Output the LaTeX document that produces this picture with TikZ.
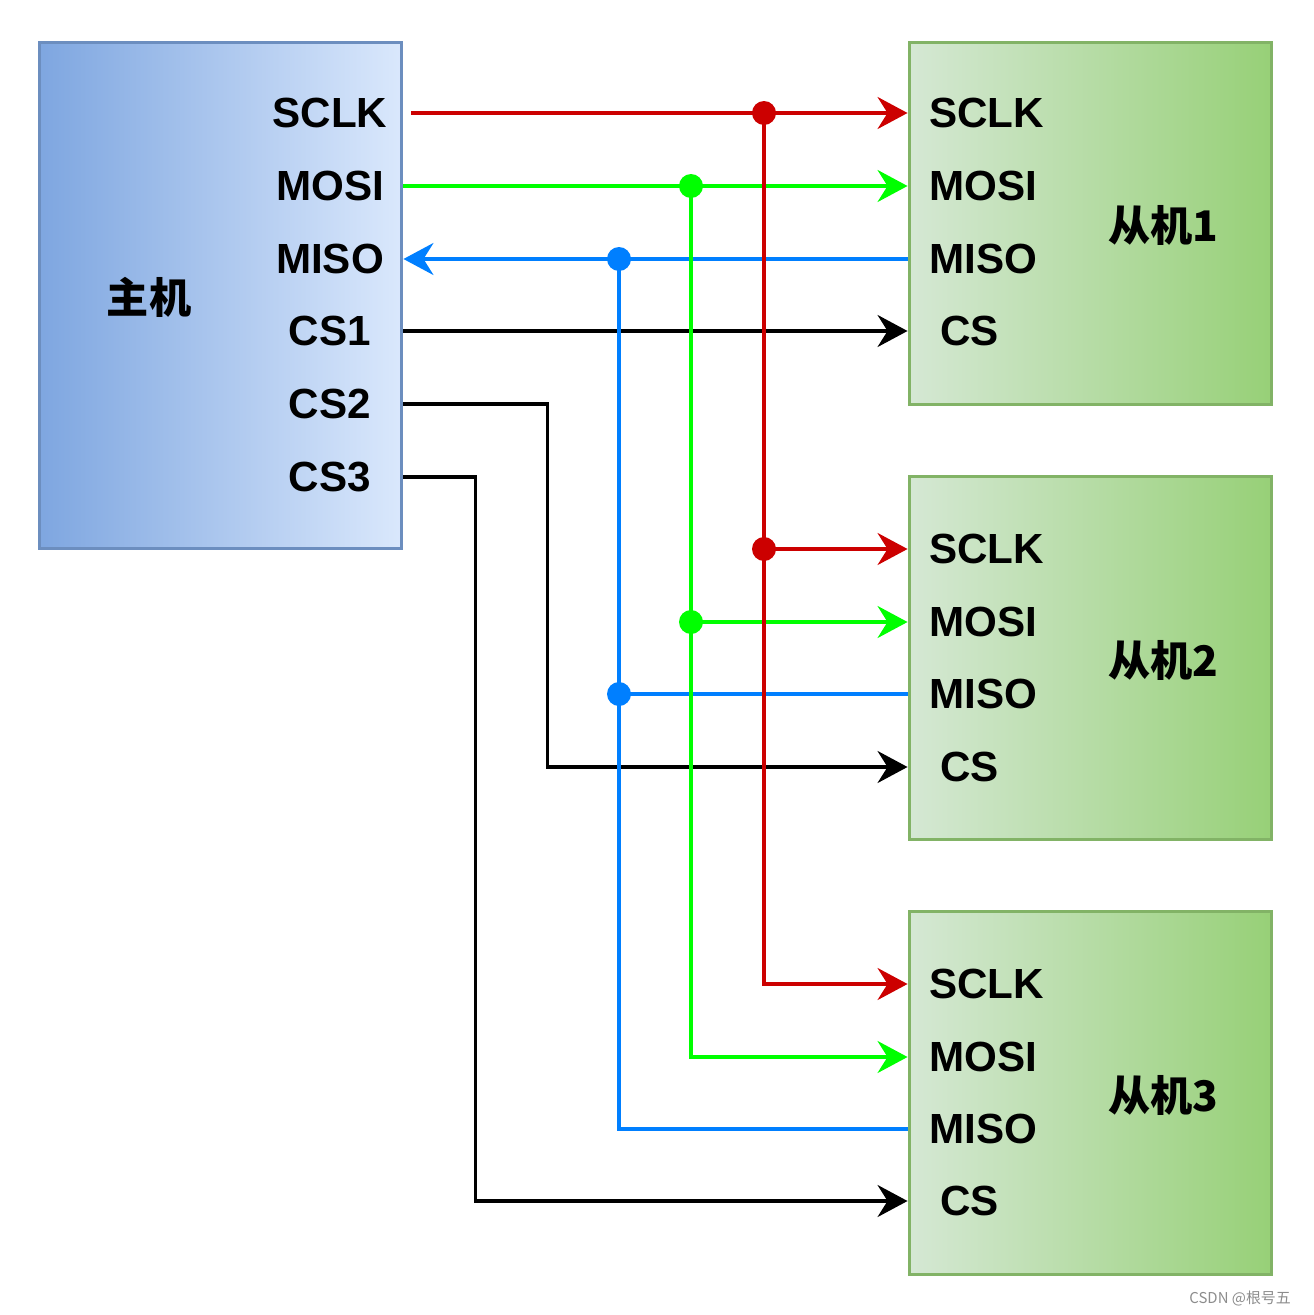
\documentclass[tikz,border=0pt]{standalone}
\usepackage{fontspec}
\setmainfont{Liberation Sans}
\newfontfamily\cjk{Noto Sans CJK SC}
\usetikzlibrary{arrows.meta, positioning}

\definecolor{masterline}{HTML}{6C8EBF}
\definecolor{masterleft}{HTML}{7EA6E0}
\definecolor{masterright}{HTML}{DAE8FC}
\definecolor{slaveline}{HTML}{82B366}
\definecolor{slaveleft}{HTML}{D5E8D4}
\definecolor{slaveright}{HTML}{97D077}
\definecolor{sclkred}{HTML}{CC0000}
\definecolor{mosigreen}{HTML}{00FF00}
\definecolor{misoblue}{HTML}{007FFF}

\tikzset{
	spipicture/.style = {
		x = 0.02cm,
		y = -0.02cm,
		font = \fontsize{24}{28}\selectfont\bfseries,
		wire/.style = {
			draw,
			line width = 2pt,
		},
		signal/.style = {
			wire,
			-{Stealth[length = 6mm, width = 6.4mm, inset = 2mm]},
		}
	},
	masternode/.style = {
		rectangle,
		draw = masterline,
		line width = 1.7pt,
		left color = masterleft,
		right color = masterright,
		minimum width = 7.26cm,
		minimum height = 10.14cm
	},
	slavenode/.style = {
		rectangle,
		draw = slaveline,
		line width = 1.7pt,
		left color = slaveleft,
		right color = slaveright,
		minimum width = 7.26cm,
		minimum height = 7.26cm
	},
	pin/.style = {
		inner sep = 0
	},
	joint/.style = {
		circle,
		inner sep = 0,
		minimum size = 4.8mm
	},
	sclk-wire/.style = {
		draw = sclkred
	},
	mosi-wire/.style = {
		draw = mosigreen
	},
	miso-wire/.style = {
		draw = misoblue
	},
	cs-wire/.style = {
		draw = black
	},
	watermark/.style = {
		font = \cjk\fontsize{8.5}{10}\selectfont,
		text = black!45
	}
}

\begin{document}
\begin{tikzpicture}[spipicture]
	\useasboundingbox (0,0) rectangle (1313,1315);

	\node[masternode] (master) at (220.5,295.5) {};
	\node[slavenode] (slave1) at (1090.5,223.5) {};
	\node[slavenode, below = 1.38cm of slave1] (slave2) {};
	\node[slavenode, below = 1.38cm of slave2] (slave3) {};

	\node at (149,297) {\cjk 主机};
	\node at (1163,225) {\cjk 从机1};
	\node at (1163,660) {\cjk 从机2};
	\node at (1163,1095) {\cjk 从机3};

	% master pins
	\node[pin] (mSCLK) at (330,113) {SCLK};
	\node[pin] (mMOSI) at (330,186) {MOSI};
	\node[pin] (mMISO) at (330,259) {MISO};
	\node[pin] (mCS1) at (330,331) {CS1};
	\node[pin] (mCS2) at (330,404) {CS2};
	\node[pin] (mCS3) at (330,477) {CS3};

	% slave pins
	\node[pin, anchor = west] (s1SCLK) at (929,113) {SCLK};
	\node[pin, anchor = west] (s1MOSI) at (929,186) {MOSI};
	\node[pin, anchor = west] (s1MISO) at (929,259) {MISO};
	\node[pin, anchor = west] (s1CS) at (940,331) {CS};
	\node[pin, anchor = west] (s2SCLK) at (929,549) {SCLK};
	\node[pin, anchor = west] (s2MOSI) at (929,622) {MOSI};
	\node[pin, anchor = west] (s2MISO) at (929,694) {MISO};
	\node[pin, anchor = west] (s2CS) at (940,767) {CS};
	\node[pin, anchor = west] (s3SCLK) at (929,984) {SCLK};
	\node[pin, anchor = west] (s3MOSI) at (929,1057) {MOSI};
	\node[pin, anchor = west] (s3MISO) at (929,1129) {MISO};
	\node[pin, anchor = west] (s3CS) at (940,1201) {CS};

	\node[watermark, anchor = east] (mark) at (1297,1299) {CSDN @根号五};

	\begin{scope}[every path/.style = wire]
		\path[cs-wire, signal] (mCS1 -| master.east) to (s1CS -| slave1.west);
		\path[cs-wire, signal] (mCS2 -| master.east) -- ++(144,0) |- (s2CS -| slave2.west);
		\path[cs-wire, signal] (mCS3 -| master.east) -- ++(72,0) |- (s3CS -| slave3.west);

		\node[joint, fill = misoblue, draw = none] (b1) at (619,259) {};
		\node[joint, fill = misoblue, draw = none] (b2) at (b1 |- s2MISO) {};
		\path[miso-wire, signal] (s1MISO -| slave1.west) to (mMISO -| master.east);
		\path[miso-wire] (b1.center) |- (s3MISO -| slave3.west);
		\path[miso-wire] (b2.center) to (s2MISO -| slave2.west);

		\node[joint, fill = mosigreen, draw = none] (g1) at (691,186) {};
		\node[joint, fill = mosigreen, draw = none] (g2) at (g1 |- s2MOSI) {};
		\path[mosi-wire, signal] (mMOSI -| master.east) to (s1MOSI -| slave1.west);
		\path[mosi-wire, signal] (g1.center) |- (s3MOSI -| slave3.west);
		\path[mosi-wire, signal] (g2.center) to (s2MOSI -| slave2.west);

		\node[joint, fill = sclkred, draw = none] (r1) at (764,113) {};
		\node[joint, fill = sclkred, draw = none] (r2) at (r1 |- s2SCLK) {};
		\path[sclk-wire, signal, shorten <= 0.16cm] (mSCLK -| master.east) to (s1SCLK -| slave1.west);
		\path[sclk-wire, signal] (r1.center) |- (s3SCLK -| slave3.west);
		\path[sclk-wire, signal] (r2.center) to (s2SCLK -| slave2.west);
	\end{scope}
\end{tikzpicture}
\end{document}
